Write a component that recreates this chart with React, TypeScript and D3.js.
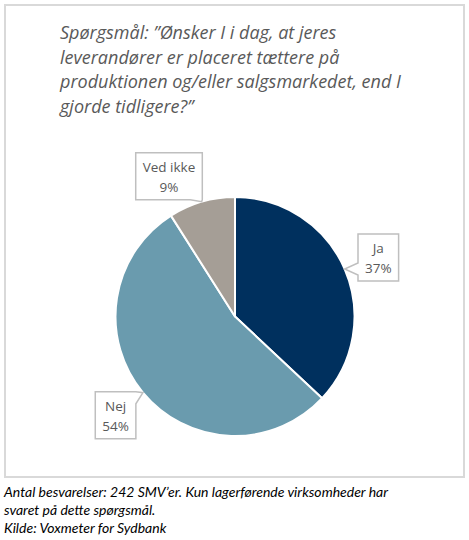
import * as d3 from "d3"
import { useRef, useEffect } from "react"

const categories = ["Ja", "Nej", "Ved ikke"]
const shares = [37, 54, 9]
const colors = ["#00305e", "#6a9bae", "#a59e96"]
const titleLines = [
  "Spørgsmål: ”Ønsker I i dag, at jeres",
  "leverandører er placeret tættere på",
  "produktionen og/eller salgsmarkedet, end I",
  "gjorde tidligere?”",
]
const footerLines = [
  "Antal besvarelser: 242 SMV’er. Kun lagerførende virksomheder har",
  "svaret på dette spørgsmål.",
  "Kilde: Voxmeter for Sydbank",
]

const W = 469
const H = 540

export default function App() {
  const svgRef = useRef<SVGSVGElement>(null)

  useEffect(() => {
    if (!svgRef.current) return
    const svg = d3.select(svgRef.current)
    svg.selectAll("*").remove()

    // outer frame
    svg.append("rect")
      .attr("x", 5).attr("y", 5).attr("width", 459).attr("height", 472)
      .attr("fill", "#fff").attr("stroke", "#d9d9d9").attr("stroke-width", 2)

    // title
    svg.append("g")
      .selectAll("text")
      .data(titleLines)
      .join("text")
      .attr("x", 60)
      .attr("y", (_, i) => 39 + i * 24.5)
      .attr("fill", "#595959")
      .style("font-family", "'Open Sans'")
      .style("font-style", "italic")
      .style("font-size", "18px")
      .text((d) => d)

    // footer
    svg.append("g")
      .selectAll("text")
      .data(footerLines)
      .join("text")
      .attr("x", 4)
      .attr("y", (_, i) => 496.5 + i * 18)
      .attr("fill", "#000")
      .style("font-family", "Lato")
      .style("font-style", "italic")
      .style("font-size", "14px")
      .text((d) => d)

    const cx = 235
    const cy = 316.5
    const radius = 119.5

    const data = categories.map((c, i) => ({ name: c, value: shares[i], color: colors[i] }))
    const pie = d3.pie<(typeof data)[0]>().value((d) => d.value).sort(null)
    const arcs = pie(data)
    const arc = d3.arc<d3.PieArcDatum<(typeof data)[0]>>().innerRadius(0).outerRadius(radius)

    const g = svg.append("g").attr("transform", `translate(${cx},${cy})`)
    g.selectAll("path")
      .data(arcs)
      .join("path")
      .attr("d", (d) => arc(d) || "")
      .attr("fill", (d) => d.data.color)
      .attr("stroke", "#fff")
      .attr("stroke-width", 2)
      .attr("stroke-linejoin", "round")

    // callout labels
    const labelRadius = 155
    const angleNudge = [1, 0, -9].map((a) => (a * Math.PI) / 180)
    const boxH = 47
    const lineGap = 20

    arcs.forEach((d, i) => {
      const mid = (d.startAngle + d.endAngle) / 2
      const la = mid + angleNudge[i]
      const lx = Math.sin(la) * labelRadius
      const ly = -Math.cos(la) * labelRadius
      const tx = Math.sin(mid) * radius
      const ty = -Math.cos(mid) * radius

      const lg = g.append("g")
      const path = lg.append("path")
      const t1 = lg.append("text")
        .attr("x", lx).attr("y", ly - 4)
        .attr("text-anchor", "middle")
        .attr("fill", "#595959")
        .style("font-family", "'Open Sans'")
        .style("font-size", "13.5px")
        .text(d.data.name)
      const t2 = lg.append("text")
        .attr("x", lx).attr("y", ly - 4 + lineGap)
        .attr("text-anchor", "middle")
        .attr("fill", "#595959")
        .style("font-family", "'Open Sans'")
        .style("font-size", "13.5px")
        .text(`${d.data.value}%`)
      const tw = Math.max(
        (t1.node() as SVGTextElement).getComputedTextLength(),
        (t2.node() as SVGTextElement).getComputedTextLength(),
      )
      const bw = tw + 14
      const x0 = lx - bw / 2
      const x1 = lx + bw / 2
      const y0 = ly - boxH / 2
      const y1 = ly + boxH / 2

      const base = 12
      const outX = tx < x0 ? x0 - tx : tx > x1 ? tx - x1 : 0
      const outY = ty < y0 ? y0 - ty : ty > y1 ? ty - y1 : 0
      let p: number[][]
      if (outX >= outY) {
        const by = Math.max(y0, Math.min(y1 - base, ty - base / 2))
        if (tx < x0) {
          p = [[x0, y0], [x1, y0], [x1, y1], [x0, y1], [x0, by + base], [tx, ty], [x0, by]]
        } else {
          p = [[x0, y0], [x1, y0], [x1, by], [tx, ty], [x1, by + base], [x1, y1], [x0, y1]]
        }
      } else {
        const bx = Math.max(x0, Math.min(x1 - base, tx - base / 2))
        if (ty > y1) {
          p = [[x0, y0], [x1, y0], [x1, y1], [bx + base, y1], [tx, ty], [bx, y1], [x0, y1]]
        } else {
          p = [[x0, y0], [bx, y0], [tx, ty], [bx + base, y0], [x1, y0], [x1, y1], [x0, y1]]
        }
      }
      path
        .attr("d", d3.line()(p as [number, number][]) + "Z")
        .attr("fill", "#fff")
        .attr("stroke", "#bfbfbf")
        .attr("stroke-width", 1.5)
    })
  }, [])

  return (
    <svg
      ref={svgRef}
      width={W}
      height={H}
      style={{ position: "absolute", left: 0, top: 0, background: "#fff" }}
    ></svg>
  )
}
